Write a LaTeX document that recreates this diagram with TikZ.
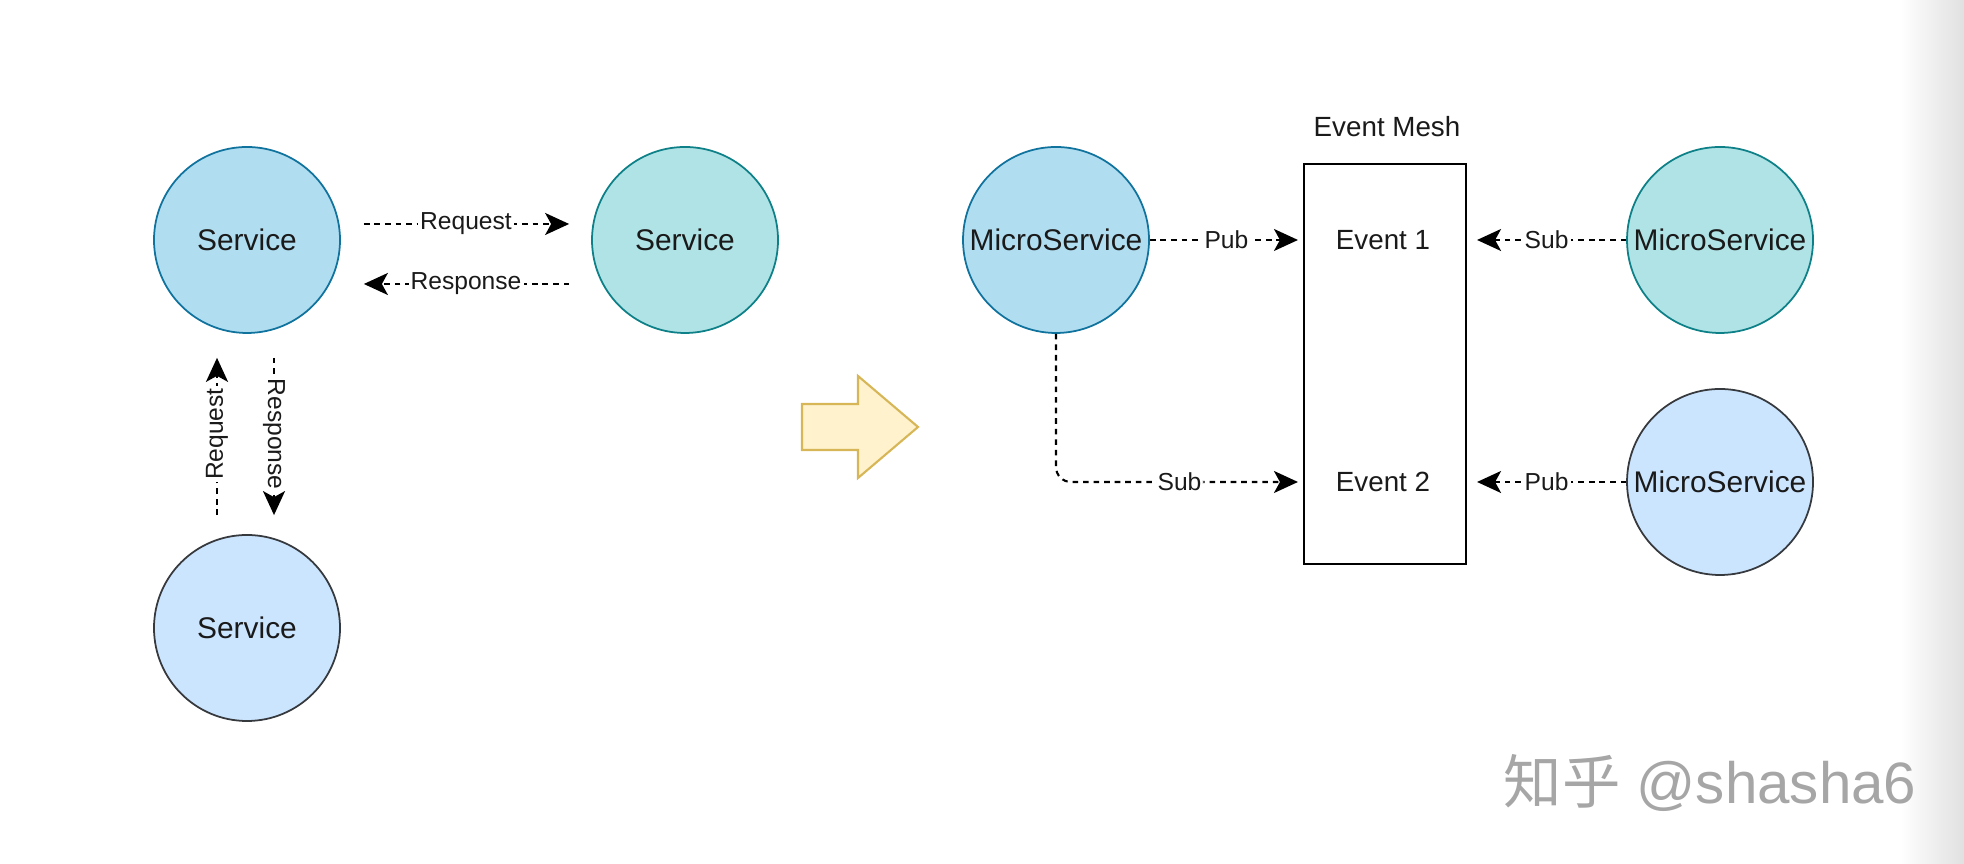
\documentclass[tikz,border=0pt]{standalone}
\usepackage{fontspec}
\setmainfont{Liberation Sans}
\newfontfamily\cjkfont{Noto Sans CJK SC}
\usetikzlibrary{arrows.meta,positioning}

\definecolor{blueA}{HTML}{B1DDF0}
\definecolor{blueAline}{HTML}{10739E}
\definecolor{tealB}{HTML}{B0E3E6}
\definecolor{tealBline}{HTML}{0E8088}
\definecolor{blueC}{HTML}{CCE5FF}
\definecolor{blueCline}{HTML}{36393D}
\definecolor{yellowfill}{HTML}{FFF2CC}
\definecolor{yellowline}{HTML}{D6B656}
\definecolor{textdark}{HTML}{1A1A1A}

\begin{document}
\begin{tikzpicture}[
    svc/.style={circle, draw, minimum size=1.86cm, inner sep=0pt, line width=0.5pt,
      font=\fontsize{8.5}{10}\selectfont, text=textdark},
    evtext/.style={font=\fontsize{7.9}{9}\selectfont, text=textdark},
    link/.style={line width=0.6pt, dash pattern=on 1.6pt off 1.4pt,
      -{Stealth[length=2.4mm,width=2.2mm,inset=0.6mm]}},
    lbl/.style={fill=white, inner sep=0.6pt, font=\fontsize{7}{8}\selectfont, text=textdark},
  ]
  \useasboundingbox (0,0) rectangle (19.64,8.64);
  % 右边的阴影
  \shade[left color=white, right color=black!12] (19.0,0) rectangle (19.64,8.64);

  % 左边: 三个服务, 请求 / 响应
  \node[svc, fill=blueA, draw=blueAline] (svcA) at (2.47,6.24) {Service};
  \node[svc, fill=tealB, draw=tealBline] (svcB) at (6.85,6.24) {Service};
  \node[svc, fill=blueC, draw=blueCline] (svcC) at (2.47,2.36) {Service};

  \draw[link, shorten <=0.23cm, shorten >=0.22cm] ([yshift=0.16cm]svcA.east)
    -- node[lbl] {Request} ([yshift=0.16cm]svcB.west);
  \draw[link, shorten <=0.22cm, shorten >=0.23cm] ([yshift=-0.44cm]svcB.west)
    -- node[lbl] {Response} ([yshift=-0.44cm]svcA.east);
  \draw[link, shorten <=0.19cm, shorten >=0.24cm] ([xshift=-0.30cm]svcC.north)
    -- node[lbl, rotate=90] {Request} ([xshift=-0.30cm]svcA.south);
  \draw[link, shorten <=0.24cm, shorten >=0.19cm] ([xshift=0.27cm]svcA.south)
    -- node[lbl, rotate=-90] {Response} ([xshift=0.27cm]svcC.north);

  % 中间的大箭头
  \draw[fill=yellowfill, draw=yellowline, line width=0.6pt]
    (8.02,4.60) -- (8.58,4.60) -- (8.58,4.88) -- (9.18,4.37)
    -- (8.58,3.86) -- (8.58,4.14) -- (8.02,4.14) -- cycle;

  % 右边: Event Mesh
  \node[rectangle, draw, line width=0.6pt, minimum width=1.62cm, minimum height=4cm] (mesh) at (13.85,5.0) {};
  \node[evtext] (meshlbl) at (13.87,7.37) {Event Mesh};
  \node[evtext] (ev1) at (13.83,6.24) {Event 1};
  \node[evtext] (ev2) at (13.83,3.82) {Event 2};

  \node[svc, fill=blueA, draw=blueAline] (ms1) at (10.56,6.24) {MicroService};
  \node[svc, fill=tealB, draw=tealBline] (ms2) at (17.20,6.24) {MicroService};
  \node[svc, fill=blueC, draw=blueCline] (ms3) at (17.20,3.82) {MicroService};

  \draw[link, shorten >=0.05cm] (ms1.east) -- node[lbl] {Pub} (ev1 -| mesh.west);
  \draw[link, shorten >=0.10cm] (ms2.west) -- node[lbl] {Sub} (ev1 -| mesh.east);
  \draw[link, shorten >=0.10cm] (ms3.west) -- node[lbl] {Pub} (ev2 -| mesh.east);
  \draw[link, rounded corners=0.15cm, shorten >=0.05cm] (ms1.south)
    |- node[lbl, pos=0.75] {Sub} (ev2 -| mesh.west);

  % 水印
  \node[anchor=base west, inner sep=0pt, text=black!35, font=\fontsize{16.6}{20}\selectfont]
    (wm) at (15.03,0.60) {{\cjkfont 知乎}\ @shasha6};
\end{tikzpicture}
\end{document}
